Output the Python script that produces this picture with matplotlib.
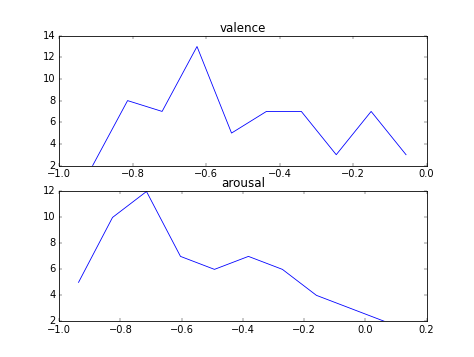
import matplotlib
matplotlib.use("Agg")
import matplotlib.pyplot as plt

plt.style.use("classic")

VALENCE_X = [-0.909, -0.814, -0.720, -0.625, -0.531, -0.436, -0.341, -0.246, -0.151, -0.056]
VALENCE_Y = [2, 8, 7, 13, 5, 7, 7, 3, 7, 3]

AROUSAL_X = [-0.937, -0.826, -0.715, -0.604, -0.493, -0.382, -0.271, -0.160, -0.049, 0.062]
AROUSAL_Y = [5, 10, 12, 7, 6, 7, 6, 4, 3, 2]

DPI = 59.25
fig = plt.figure(figsize=(474 / DPI, 357 / DPI), dpi=DPI)

ax1 = fig.add_subplot(2, 1, 1)
ax1.plot(VALENCE_X, VALENCE_Y, color="b")
ax1.set_title("valence")

ax2 = fig.add_subplot(2, 1, 2)
ax2.plot(AROUSAL_X, AROUSAL_Y, color="b")
ax2.set_title("arousal")

fig.savefig("out.png", dpi=DPI, facecolor="white")
